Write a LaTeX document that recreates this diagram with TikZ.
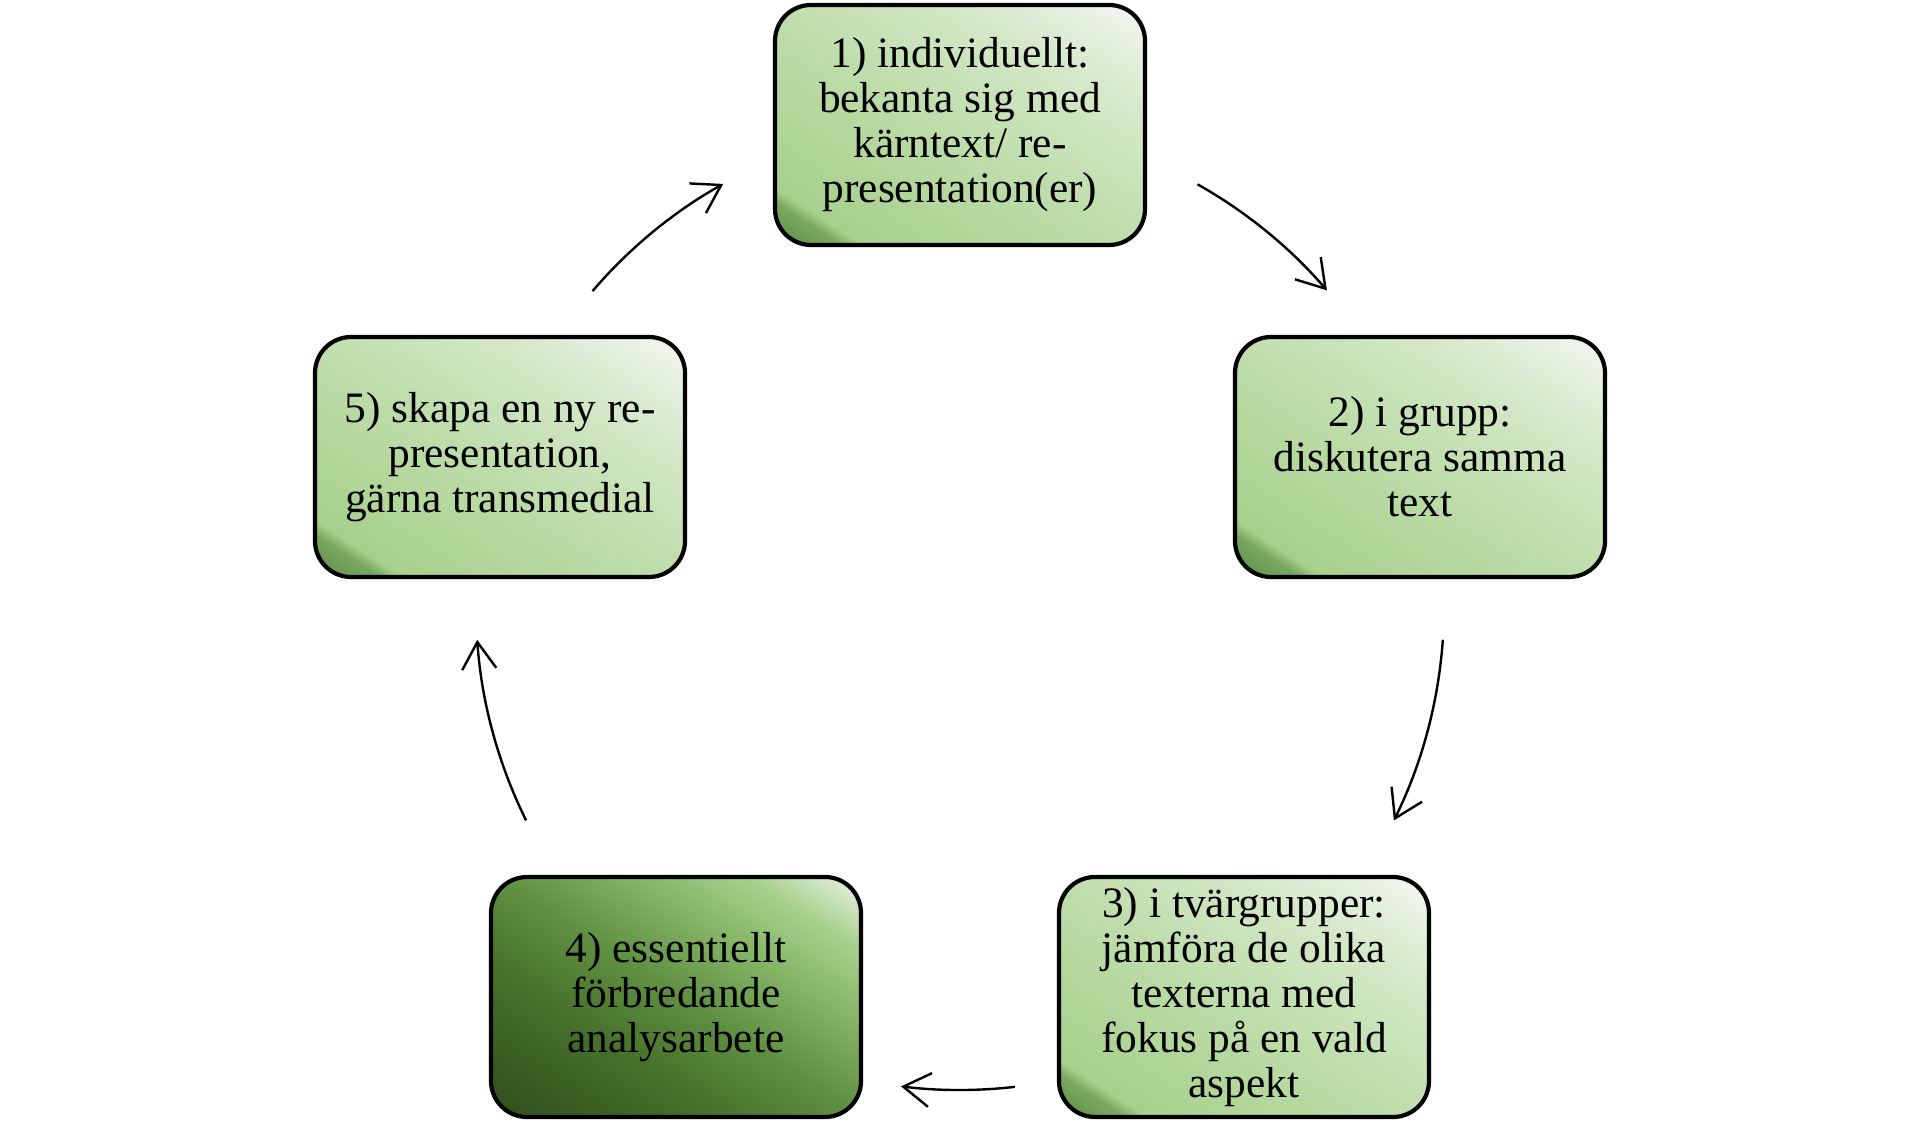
\documentclass[tikz,border=0pt]{standalone}
\usepackage{fontspec}
\setmainfont{Liberation Serif}
\usetikzlibrary{arrows.meta,calc}
\definecolor{lgA}{HTML}{5A8A40}
\definecolor{lgB}{HTML}{7AA862}
\definecolor{lgC}{HTML}{A8D08D}
\definecolor{lgD}{HTML}{BCDCA8}
\definecolor{lgE}{HTML}{D4E8C8}
\definecolor{lgF}{HTML}{F4F7F4}
\definecolor{dgA}{HTML}{2F4D1C}
\definecolor{dgB}{HTML}{466F2B}
\definecolor{dgC}{HTML}{5E8F40}
\definecolor{dgD}{HTML}{86B668}
\definecolor{dgE}{HTML}{A9D18E}
\definecolor{dgF}{HTML}{EEF4EC}
\pgfdeclarehorizontalshading{lightgrad}{100bp}{color(0bp)=(lgA); color(25bp)=(lgA); color(29.5bp)=(lgB); color(31bp)=(lgC); color(47.5bp)=(lgD); color(62.5bp)=(lgE); color(75bp)=(lgF); color(100bp)=(lgF)}
\pgfdeclarehorizontalshading{darkgrad}{100bp}{color(0bp)=(dgA); color(25bp)=(dgA); color(40bp)=(dgB); color(50bp)=(dgC); color(60bp)=(dgD); color(67.5bp)=(dgE); color(75bp)=(dgF); color(100bp)=(dgF)}
\newcommand\greenbox[5]{%
  \begin{scope}
    \clip[rounded corners=36pt] (#2-185,#3-120) rectangle (#2+185,#3+120);
    \begin{scope}[transform canvas={shift={(#2,#3)},rotate=57}]
      \shade[shading=#4] (-201.5,-230) rectangle (201.5,230);
    \end{scope}
  \end{scope}
  \node[boxnode] (#1) at (#2,#3) {#5};
}
\begin{document}
\begin{tikzpicture}[x=1pt,y=1pt,
  boxnode/.style={draw=black, line width=4.2pt, rounded corners=36pt,
    minimum width=370pt, minimum height=240pt, inner sep=0pt, align=center,
    font=\fontsize{43.4}{45}\selectfont},
  conn/.style={line width=2.4pt, -{Straight Barb[length=27pt,width=34pt]}}]
\useasboundingbox (0,0) rectangle (1920,1138);
\fill[white] (0,0) rectangle (1920,1138);
\greenbox{b1}{960}{1013}{lightgrad}{1) individuellt:\\ bekanta sig med\\ kärntext/ re-\\ presentation(er)}
\greenbox{b2}{1420}{681}{lightgrad}{2) i grupp:\\ diskutera samma\\ text}
\greenbox{b3}{1244}{141}{lightgrad}{3) i tvärgrupper:\\ jämföra de olika\\ texterna med\\ fokus på en vald\\ aspekt}
\greenbox{b4}{676}{141}{darkgrad}{4) essentiellt\\ förbredande\\ analysarbete}
\greenbox{b5}{500}{681}{lightgrad}{5) skapa en ny re-\\ presentation,\\ gärna transmedial}
\coordinate (C) at (960,532);
\coordinate (a12) at ($(C)+(60.6:484)$);
\coordinate (a23) at ($(C)+(-4:484)$);
\coordinate (a34) at ($(C)+(-83.5:484)$);
\coordinate (a45) at ($(C)+(206.3:484)$);
\coordinate (a51) at ($(C)+(139.4:484)$);
\draw[conn] (a12) arc[start angle=60.6, end angle=40.7, radius=484];
\draw[conn] (a23) arc[start angle=-4, end angle=-26.3, radius=484];
\draw[conn] (a34) arc[start angle=-83.5, end angle=-97, radius=484];
\draw[conn] (a45) arc[start angle=206.3, end angle=184, radius=484];
\draw[conn] (a51) arc[start angle=139.4, end angle=119.3, radius=484];
\end{tikzpicture}
\end{document}
